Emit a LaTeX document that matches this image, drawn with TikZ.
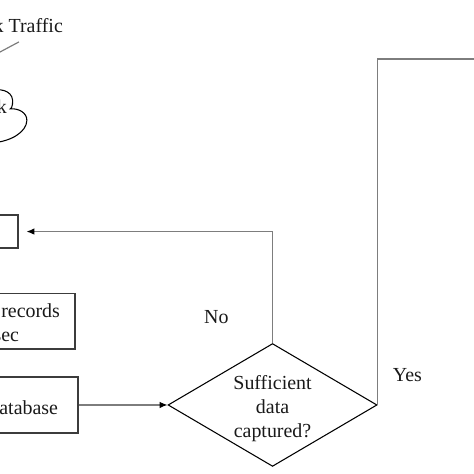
\documentclass[tikz,border=0pt]{standalone}
\usepackage{fontspec}
\setmainfont{Liberation Serif}
\usetikzlibrary{shapes.geometric, arrows.meta, positioning}
\usepackage{xcolor}
\definecolor{boxbd}{RGB}{60,60,60}
\definecolor{linecol}{RGB}{125,125,125}
\definecolor{textcol}{RGB}{25,25,25}

\begin{document}
\begin{tikzpicture}[
    box/.style    = {rectangle, draw=boxbd, line width=0.9pt, minimum width=3.56cm,
                     text width=2.5cm, inner xsep=0.53cm, inner ysep=0pt, align=right,
                     font=\fontsize{15}{18}\selectfont, text=textcol},
    decision/.style = {diamond, draw=black, line width=0.8pt, aspect=1.7,
                     minimum width=5.53cm, minimum height=3.25cm, inner sep=0pt,
                     align=center, font=\fontsize{15}{18.4}\selectfont, text=textcol},
    txt/.style    = {font=\fontsize{15}{18}\selectfont, text=textcol},
    arrow/.style  = {-{Latex[length=6pt,width=5pt,black]}, line width=0.9pt, draw=linecol},
    plain/.style  = {line width=0.9pt, draw=linecol},
]
\useasboundingbox (0,0) rectangle (12.54,12.54);

% ── Decision ────────────────────────────────────────────────────
\node[decision] (dia) at (7.21,1.826) {\rule{0pt}{16pt}Sufficient\\data\\captured?};

% ── Boxes on the left ───────────────────────────────────────────
\node[box, minimum height=1.48cm, left=2.35cm of dia] (dbbox) {\rule{0pt}{14pt}atabase};
\node[box, text width=2.76cm, inner xsep=0.4cm, minimum height=1.47cm,
      above=0.71cm of dbbox.north east, anchor=south east, xshift=-0.08cm] (recbox)
    {\rule{0pt}{13pt}records\\\mbox{sec\rule{1.08cm}{0pt}}};
\node[box, minimum height=0.87cm, above=1.17cm of recbox.north east, anchor=south east,
      xshift=-1.51cm] (capbox) {};

% ── Traffic label and cloud ─────────────────────────────────────
\node[txt, anchor=base east, inner sep=0pt] (traffic) at (1.67,11.67) {k Traffic};
\node[txt, anchor=base east, inner sep=0pt] (cloudtxt) at (0.19,9.55) {k};
\coordinate (tickstart) at (0.5,11.43);
\coordinate (tickend) at (-0.27,11.02);
\draw[plain] (tickstart) -- (tickend);
\draw[line width=0.8pt, black] (-0.2,10.16) .. controls (0.1,10.2) and (0.38,10.1) .. (0.33,9.78)
    .. controls (0.32,9.7) and (0.3,9.68) .. (0.27,9.66)
    .. controls (0.5,9.68) and (0.72,9.55) .. (0.71,9.35)
    .. controls (0.7,9.05) and (0.3,8.8) .. (-0.2,8.76);

% ── Connectors ──────────────────────────────────────────────────
\draw[arrow] (dbbox.east) -- (dia.west);
\draw[arrow, shorten >=0.21cm] (dia.north) |- (capbox.east);
\coordinate (yesend) at (12.7,10.98);
\draw[plain] (dia.east) |- (yesend);

% ── Branch labels ───────────────────────────────────────────────
\node[txt, above left=0.4cm and 1.04cm of dia.north] (nolbl) {No};
\node[txt, above right=0.5cm and 0.28cm of dia.east] (yeslbl) {Yes};

\end{tikzpicture}
\end{document}
